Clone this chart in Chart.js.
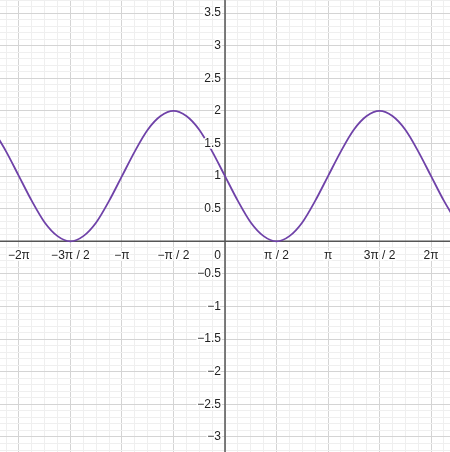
<!DOCTYPE html>
<html>
<head>
<meta charset="utf-8">
<script src="https://cdn.jsdelivr.net/npm/chart.js@4"></script>
<style>
  html, body { margin: 0; padding: 0; background: #fff; }
  #wrap { width: 450px; height: 452px; }
</style>
</head>
<body>
<div id="wrap"><canvas id="graph"></canvas></div>
<script>
const PI = Math.PI;
// curve y = 1 - sin x at every pi/8 from -18pi/8 to 18pi/8
const curveSteps = [-18, -17, -16, -15, -14, -13, -12, -11, -10, -9, -8, -7, -6, -5, -4, -3, -2, -1, 0,
    1, 2, 3, 4, 5, 6, 7, 8, 9, 10, 11, 12, 13, 14, 15, 16, 17, 18];
const curveValues = [1.71, 1.38, 1, 0.62, 0.29, 0.08, 0, 0.08, 0.29, 0.62, 1, 1.38, 1.71, 1.92, 2, 1.92, 1.71, 1.38, 1,
    0.62, 0.29, 0.08, 0, 0.08, 0.29, 0.62, 1, 1.38, 1.71, 1.92, 2, 1.92, 1.71, 1.38, 1, 0.62, 0.29];

const xTickHalfPis = [-4, -3, -2, -1, 1, 2, 3, 4];
const xTickLabels = ['\u22122\u03c0', '\u22123\u03c0 / 2', '\u2212\u03c0', '\u2212\u03c0 / 2', '\u03c0 / 2', '\u03c0', '3\u03c0 / 2', '2\u03c0'];
const yTickValues = [3.5, 3, 2.5, 2, 1.5, 1, 0.5, -0.5, -1, -1.5, -2, -2.5, -3];

const X_MIN = -6.86, X_MAX = 6.86, Y_MIN = -3.23, Y_MAX = 3.7;

const points = curveSteps.map((k, i) => ({ x: k * PI / 8, y: curveValues[i] }));

const axesPlugin = {
    id: 'axes',
    beforeDatasetsDraw(chart) {
        const ctx = chart.ctx;
        const xs = chart.scales.x, ys = chart.scales.y;
        const ox = xs.getPixelForValue(0), oy = ys.getPixelForValue(0);
        ctx.save();
        ctx.strokeStyle = '#555';
        ctx.lineWidth = 1.5;
        ctx.beginPath();
        ctx.moveTo(ox, chart.chartArea.top); ctx.lineTo(ox, chart.chartArea.bottom);
        ctx.moveTo(chart.chartArea.left, oy); ctx.lineTo(chart.chartArea.right, oy);
        ctx.stroke();
        ctx.restore();
    },
    afterDraw(chart) {
        const ctx = chart.ctx;
        const xs = chart.scales.x, ys = chart.scales.y;
        const ox = xs.getPixelForValue(0), oy = ys.getPixelForValue(0);
        ctx.save();
        ctx.font = '12px "Liberation Sans", Arial, sans-serif';
        ctx.lineWidth = 3;
        ctx.strokeStyle = '#fff';
        ctx.fillStyle = '#222';
        ctx.textBaseline = 'top';
        ctx.textAlign = 'center';
        xTickHalfPis.forEach((h, i) => {
            const px = xs.getPixelForValue(h * PI / 2);
            ctx.strokeText(xTickLabels[i], px, oy + 8);
            ctx.fillText(xTickLabels[i], px, oy + 8);
        });
        ctx.textAlign = 'right';
        ctx.strokeText('0', ox - 4, oy + 8);
        ctx.fillText('0', ox - 4, oy + 8);
        ctx.textBaseline = 'middle';
        yTickValues.forEach(v => {
            const py = ys.getPixelForValue(v);
            const t = v < 0 ? '\u2212' + (-v) : String(v);
            ctx.strokeText(t, ox - 4, py);
            ctx.fillText(t, ox - 4, py);
        });
        ctx.restore();
    }
};

new Chart(document.getElementById('graph'), {
    type: 'scatter',
    data: {
        datasets: [{
            data: points,
            showLine: true,
            borderColor: '#6f42a8',
            borderWidth: 1.8,
            pointRadius: 0,
            cubicInterpolationMode: 'monotone'
        }]
    },
    options: {
        responsive: true,
        maintainAspectRatio: false,
        animation: false,
        layout: { padding: 0 },
        plugins: { legend: { display: false }, tooltip: { enabled: false } },
        scales: {
            x: {
                type: 'linear', min: X_MIN, max: X_MAX,
                afterBuildTicks(scale) {
                    const t = [];
                    for (let k = -17; k <= 17; k++) t.push({ value: k * PI / 8 });
                    scale.ticks = t;
                },
                ticks: { display: false },
                border: { display: false },
                grid: {
                    drawTicks: false,
                    color: c => Math.round(c.tick.value / (PI / 8)) % 4 === 0 ? '#d4d4d4' : '#efefef'
                }
            },
            y: {
                type: 'linear', min: Y_MIN, max: Y_MAX,
                afterBuildTicks(scale) {
                    const t = [];
                    for (let k = -32; k <= 37; k++) t.push({ value: k / 10 });
                    scale.ticks = t;
                },
                ticks: { display: false },
                border: { display: false },
                grid: {
                    drawTicks: false,
                    color: c => Math.round(c.tick.value * 10) % 5 === 0 ? '#d4d4d4' : '#efefef'
                }
            }
        }
    },
    plugins: [axesPlugin]
});
</script>
</body>
</html>
